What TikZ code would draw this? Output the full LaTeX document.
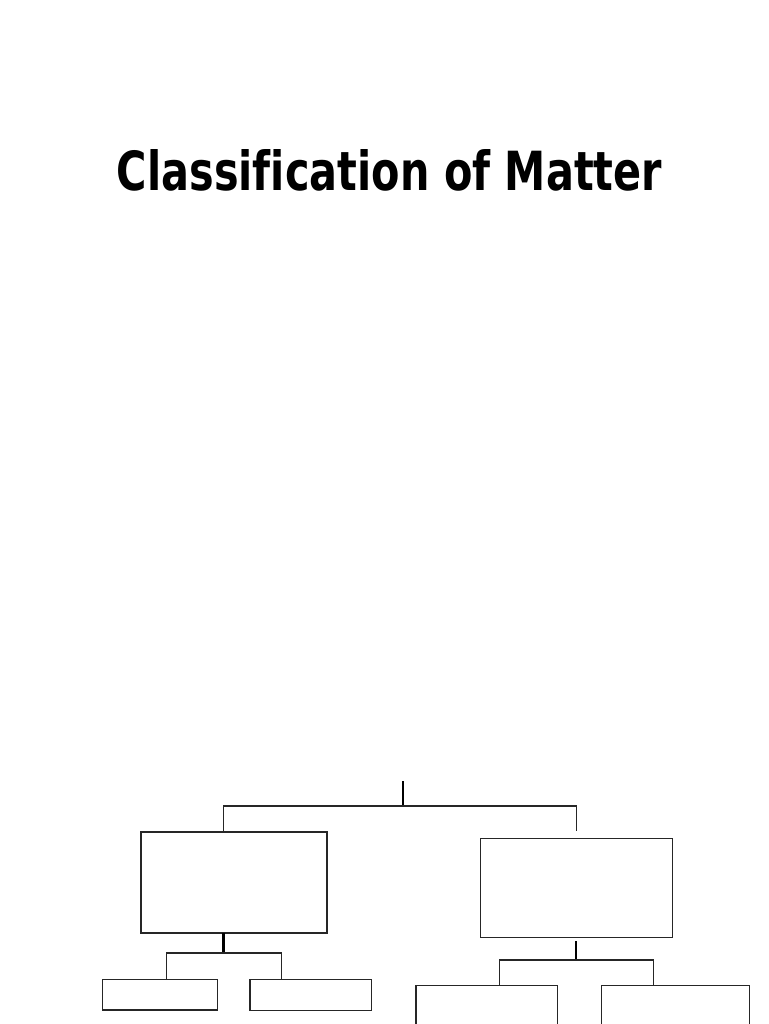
\documentclass[tikz,border=0pt]{standalone}
\usepackage{fontspec}
\setmainfont[Ligatures=NoCommon]{DejaVu Sans}
\usepackage{graphicx}
\tikzset{
  box/.style={draw=black!85,line width=1.2pt,inner sep=0pt,outer sep=0pt},
  link/.style={draw=black!85,line width=1.2pt},
  stem/.style={draw=black,line width=2.6pt}
}
\begin{document}
\begin{tikzpicture}[x=1pt,y=-1pt]
\clip (0,0) rectangle (768,1024);
\fill[white] (0,0) rectangle (768,1024);

\node[anchor=base,inner sep=0pt] (title) at (389.5,191) {\resizebox{545pt}{41pt}{\bfseries Classification\ of\ Matter}};

% top level
\node[box,minimum width=186pt,minimum height=101pt] (pure) at (234,882.5) {};
\node[box,minimum width=192pt,minimum height=99.4pt] (mixture) at (576.3,888) {};

% second level
\node[box,minimum width=115pt,minimum height=30.7pt] (element) at (160.2,994.6) {};
\node[box,minimum width=121.7pt,minimum height=31pt] (compound) at (310.8,994.6) {};
\node[box,minimum width=141.3pt,minimum height=60pt] (homog) at (486.7,1015.3) {};
\node[box,minimum width=147.6pt,minimum height=60pt] (heterog) at (675.5,1015.3) {};

\coordinate (top) at (403,781);
\coordinate (fork) at (403,806);
\coordinate (lfork) at (223.7,806);
\coordinate (rfork) at (576.3,806);
\draw[stem] (top) -- (fork);
\draw[link] (pure.north -| lfork) -- (lfork) -- (rfork) -- ++(0,25);

\coordinate (pfork) at (223.7,953);
\draw[stem] (pure.south -| pfork) -- (pfork);
\draw[link] (element.north -| 166.3,0) -- (166.3,953) -- (281.3,953) -- (compound.north -| 281.3,0);

\coordinate (mfork) at (576,960);
\draw[stem] (576,941) -- (mfork);
\draw[link] (homog.north -| 499.3,0) -- (499.3,960) -- (653.3,960) -- (heterog.north -| 653.3,0);

\end{tikzpicture}
\end{document}
